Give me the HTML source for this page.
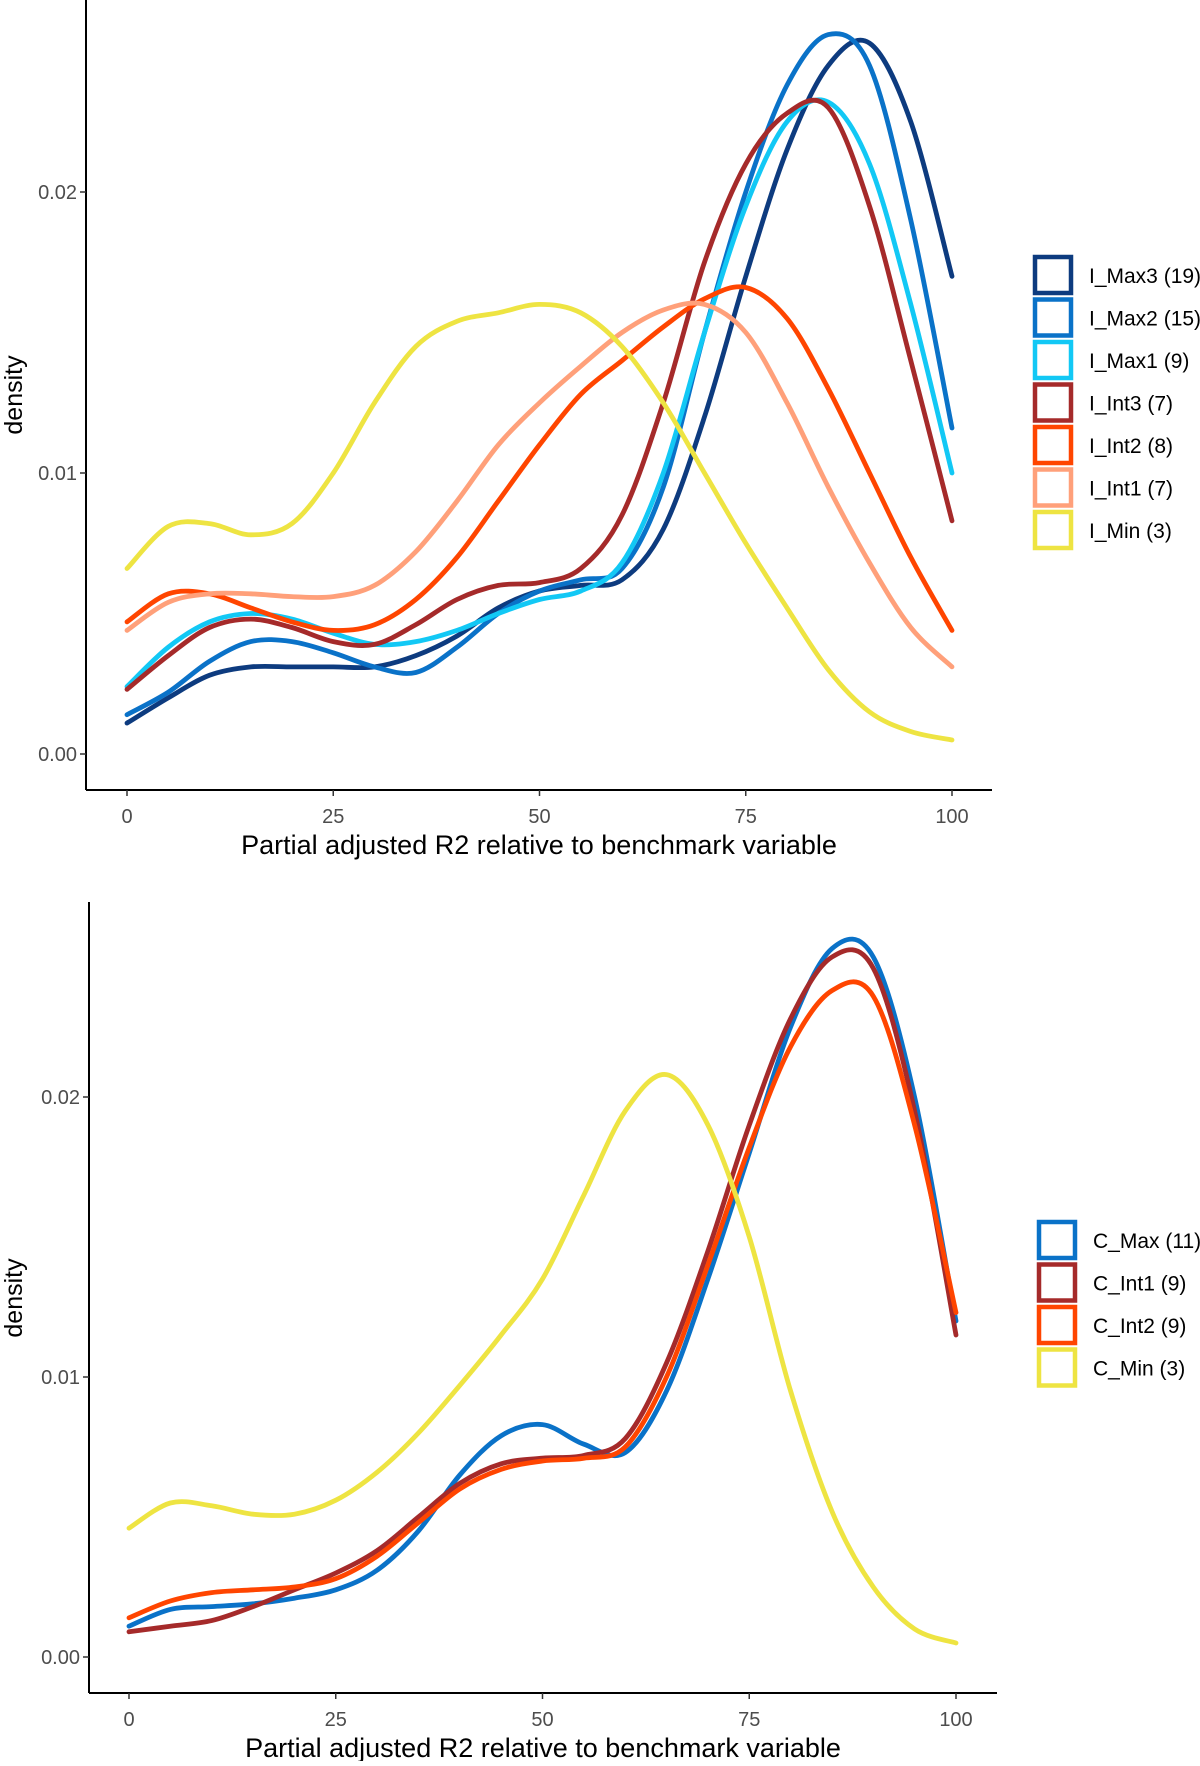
<!DOCTYPE html>
<html><head><meta charset="utf-8"><style>
html,body{margin:0;padding:0;background:#fff;}
svg text{font-family:"Liberation Sans",Arial,sans-serif;}
</style></head><body>
<svg id="chart" width="1200" height="1761" viewBox="0 0 1200 1761" xmlns="http://www.w3.org/2000/svg"></svg>
<script>
const xGrid = [0,5,10,15,20,25,30,35,40,45,50,55,60,65,70,75,80,85,90,95,100];
const xTicks = [0,25,50,75,100];
const yTicks = [0,0.01,0.02];
const yTickLabels = ["0.00","0.01","0.02"];
const topNames = ["I_Max3 (19)","I_Max2 (15)","I_Max1 (9)","I_Int3 (7)","I_Int2 (8)","I_Int1 (7)","I_Min (3)"];
const topColors = ["#0d3b7f","#0a72c8","#12c8f5","#a52a2a","#ff4500","#ffa07a","#eee442"];
const I_Max3 = [0.0011,0.0020,0.0028,0.0031,0.0031,0.0031,0.0031,0.0035,0.0042,0.0052,0.0058,0.0060,0.0062,0.0080,0.0120,0.0170,0.0215,0.0245,0.0253,0.0225,0.0170];
const I_Max2 = [0.0014,0.0022,0.0033,0.0040,0.0040,0.0036,0.0031,0.0029,0.0038,0.0050,0.0058,0.0062,0.0066,0.0095,0.0150,0.0200,0.0238,0.0256,0.0245,0.0190,0.0116];
const I_Max1 = [0.0024,0.0038,0.0047,0.0050,0.0048,0.0043,0.0039,0.0040,0.0044,0.0050,0.0055,0.0058,0.0068,0.0100,0.0150,0.0195,0.0225,0.0232,0.0210,0.0160,0.0100];
const I_Int3 = [0.0023,0.0035,0.0045,0.0048,0.0045,0.0040,0.0039,0.0046,0.0055,0.0060,0.0061,0.0066,0.0085,0.0125,0.0175,0.0210,0.0228,0.0230,0.0195,0.0140,0.0083];
const I_Int2 = [0.0047,0.0057,0.0057,0.0052,0.0047,0.0044,0.0046,0.0055,0.0070,0.0090,0.0110,0.0128,0.0140,0.0152,0.0162,0.0166,0.0155,0.0130,0.0100,0.0070,0.0044];
const I_Int1 = [0.0044,0.0054,0.0057,0.0057,0.0056,0.0056,0.0060,0.0072,0.0090,0.0110,0.0125,0.0138,0.0150,0.0158,0.0160,0.0150,0.0125,0.0095,0.0068,0.0045,0.0031];
const I_Min = [0.0066,0.0081,0.0082,0.0078,0.0082,0.0100,0.0125,0.0145,0.0154,0.0157,0.0160,0.0157,0.0145,0.0125,0.0100,0.0075,0.0052,0.0030,0.0015,0.0008,0.0005];
const botNames = ["C_Max (11)","C_Int1 (9)","C_Int2 (9)","C_Min (3)"];
const botColors = ["#0a72c8","#a52a2a","#ff4500","#eee442"];
const C_Max = [0.0011,0.0017,0.0018,0.0019,0.0021,0.0024,0.0031,0.0045,0.0065,0.0079,0.0083,0.0076,0.0073,0.0095,0.0135,0.0180,0.0225,0.0253,0.0250,0.0200,0.0120];
const C_Int1 = [0.0009,0.0011,0.0013,0.0018,0.0024,0.0030,0.0038,0.0050,0.0062,0.0069,0.0071,0.0072,0.0078,0.0105,0.0145,0.0190,0.0228,0.0250,0.0246,0.0195,0.0115];
const C_Int2 = [0.0014,0.0020,0.0023,0.0024,0.0025,0.0028,0.0036,0.0048,0.0060,0.0067,0.0070,0.0071,0.0075,0.0100,0.0140,0.0182,0.0218,0.0238,0.0236,0.0190,0.0123];
const C_Min = [0.0046,0.0055,0.0054,0.0051,0.0051,0.0056,0.0066,0.0080,0.0097,0.0115,0.0135,0.0165,0.0195,0.0208,0.0190,0.0150,0.0095,0.0052,0.0025,0.0010,0.0005];

const NS="http://www.w3.org/2000/svg";
const svg=document.getElementById('chart');
function mk(tag,attrs,parent){const e=document.createElementNS(NS,tag);for(const k in attrs)e.setAttribute(k,attrs[k]);(parent||svg).appendChild(e);return e;}
function smooth(pts){let d=`M${pts[0][0].toFixed(1)},${pts[0][1].toFixed(1)}`;for(let i=0;i<pts.length-1;i++){const p0=pts[Math.max(0,i-1)],p1=pts[i],p2=pts[i+1],p3=pts[Math.min(pts.length-1,i+2)];const c1=[p1[0]+(p2[0]-p0[0])/6,p1[1]+(p2[1]-p0[1])/6],c2=[p2[0]-(p3[0]-p1[0])/6,p2[1]-(p3[1]-p1[1])/6];d+=` C${c1[0].toFixed(1)},${c1[1].toFixed(1)} ${c2[0].toFixed(1)},${c2[1].toFixed(1)} ${p2[0].toFixed(1)},${p2[1].toFixed(1)}`;}return d;}

function panel(cfg){
  const g=mk('g',{});
  
  
  const xs=v=>cfg.x0+(cfg.x100-cfg.x0)*v/100;
  const ys=v=>cfg.y0-(cfg.y0-cfg.y02)*v/0.02;
  cfg.series.forEach((s,i)=>{
    const pts=xGrid.map((x,j)=>[xs(x),ys(s[j])]);
    const p=mk('path',{d:smooth(pts),fill:'none',stroke:cfg.colors[i],'stroke-width':4.8,'stroke-linecap':'round','stroke-linejoin':'round'},g);
    
    
  });
  const ya=mk('line',{x1:cfg.ax,y1:cfg.top,x2:cfg.ax,y2:cfg.axY,stroke:'#000','stroke-width':2},g);
  
  const xa=mk('line',{x1:cfg.ax,y1:cfg.axY,x2:cfg.axR,y2:cfg.axY,stroke:'#000','stroke-width':2},g);
  
  yTicks.forEach((t,i)=>{
    const y=ys(t);
    mk('line',{x1:cfg.ax-6,y1:y,x2:cfg.ax,y2:y,stroke:'#333','stroke-width':1.5},g);
    const tx=mk('text',{x:cfg.ax-9,y:y+7,'text-anchor':'end','font-size':20,fill:'#4d4d4d'},g);
    tx.textContent=yTickLabels[i];
    
  });
  xTicks.forEach(t=>{
    const x=xs(t);
    mk('line',{x1:x,y1:cfg.axY,x2:x,y2:cfg.axY+6,stroke:'#333','stroke-width':1.5},g);
    const tx=mk('text',{x:x,y:cfg.axY+33,'text-anchor':'middle','font-size':20,fill:'#4d4d4d'},g);
    tx.textContent=t;
    
  });
  const xt=mk('text',{x:(cfg.ax+cfg.axR)/2,y:cfg.axY+64,'text-anchor':'middle','font-size':27,fill:'#000'},g);
  xt.textContent='Partial adjusted R2 relative to benchmark variable';
  
  const yt=mk('text',{x:0,y:0,'text-anchor':'middle','font-size':25,fill:'#000',transform:`translate(22,${cfg.titleY}) rotate(-90)`},g);
  yt.textContent='density';
  
  cfg.names.forEach((n,i)=>{
    const cy=cfg.legY+i*42.5;
    const lg=mk('g',{},g);
    
    mk('rect',{x:cfg.legX+2,y:cy-18,width:36,height:36,fill:'#fff',stroke:cfg.colors[i],'stroke-width':4.5},lg);
    const lt=mk('text',{x:cfg.legX+56,y:cy+8,'font-size':21,fill:'#000'},lg);
    lt.textContent=n;
  });
}
panel({name:'top-panel',x0:127,x100:952,y0:754,y02:192,ax:86,axR:992,axY:790,top:0,titleY:395,
  series:[I_Max3,I_Max2,I_Max1,I_Int3,I_Int2,I_Int1,I_Min],names:topNames,colors:topColors,legX:1033,legY:275});
panel({name:'bottom-panel',x0:129,x100:956,y0:1657,y02:1097,ax:89,axR:997,axY:1693,top:902,titleY:1298,
  series:[C_Max,C_Int1,C_Int2,C_Min],names:botNames,colors:botColors,legX:1037,legY:1240});
</script>
</body></html>
